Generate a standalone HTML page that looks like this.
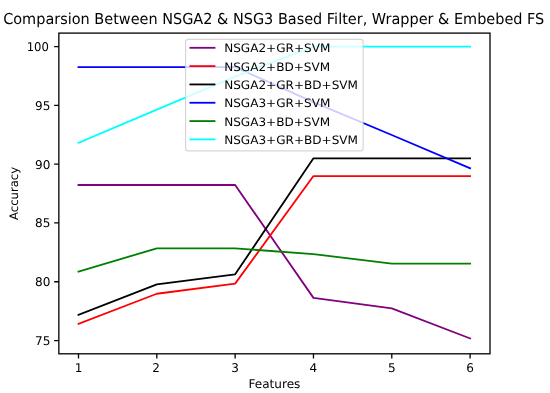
<!DOCTYPE html><html><head><meta charset="utf-8"><style>html,body{margin:0;padding:0;background:#fff;width:550px;height:393px;overflow:hidden}svg{display:block}text{text-rendering:geometricPrecision;font-family:"DejaVu Sans","Liberation Sans",sans-serif;fill:#000}</style></head><body>
<svg width="550" height="393" viewBox="0 0 550 393">
<rect width="550" height="393" fill="#fff"/>
<defs><clipPath id="ax"><rect x="58.85" y="33.1" width="431.15" height="320.7"/></clipPath></defs>
<g clip-path="url(#ax)" fill="none" stroke-width="1.81" stroke-linejoin="round" stroke-linecap="square">
<polyline points="78.50,184.98 156.82,184.98 235.14,184.98 313.46,297.87 391.78,308.34 470.10,338.44" stroke="#800080"/>
<polyline points="78.50,323.86 156.82,293.76 235.14,283.64 313.46,176.04 391.78,176.04 470.10,176.04" stroke="#ff0000"/>
<polyline points="78.50,314.81 156.82,284.46 235.14,274.35 313.46,158.28 391.78,158.28 470.10,158.28" stroke="#000000"/>
<polyline points="78.50,67.14 156.82,67.14 235.14,67.14 313.46,102.07 391.78,135.00 470.10,168.28" stroke="#0000ff"/>
<polyline points="78.50,271.53 156.82,248.36 235.14,248.36 313.46,254.12 391.78,263.53 470.10,263.53" stroke="#008000"/>
<polyline points="78.50,142.76 156.82,109.59 235.14,76.55 313.46,46.56 391.78,46.56 470.10,46.56" stroke="#00ffff"/>
</g>
<rect x="58.85" y="33.1" width="431.15" height="320.70" fill="none" stroke="#000" stroke-width="1.3" stroke-linejoin="miter" stroke-linecap="square"/>
<path d="M78.50,353.80v4.7 M156.82,353.80v4.7 M235.14,353.80v4.7 M313.46,353.80v4.7 M391.78,353.80v4.7 M470.10,353.80v4.7 M58.85,340.56h-4.7 M58.85,281.76h-4.7 M58.85,222.96h-4.7 M58.85,164.16h-4.7 M58.85,105.36h-4.7 M58.85,46.56h-4.7" stroke="#000" stroke-width="1.3" fill="none"/>
<text x="78.50" y="371.70" font-size="12.06" text-anchor="middle">1</text>
<text x="156.12" y="371.70" font-size="12.06" text-anchor="middle">2</text>
<text x="235.14" y="371.70" font-size="12.06" text-anchor="middle">3</text>
<text x="313.46" y="371.70" font-size="12.06" text-anchor="middle">4</text>
<text x="391.78" y="371.70" font-size="12.06" text-anchor="middle">5</text>
<text x="470.10" y="371.70" font-size="12.06" text-anchor="middle">6</text>
<text x="50.45" y="344.96" font-size="12.06" text-anchor="end">75</text>
<text x="50.45" y="286.16" font-size="12.06" text-anchor="end">80</text>
<text x="50.45" y="227.36" font-size="12.06" text-anchor="end">85</text>
<text x="50.45" y="168.56" font-size="12.06" text-anchor="end">90</text>
<text x="50.45" y="109.76" font-size="12.06" text-anchor="end">95</text>
<text x="26.72" y="50.96" font-size="12.06" textLength="22.19" lengthAdjust="spacingAndGlyphs">100</text>
<text x="274.43" y="387.7" font-size="12.06" text-anchor="middle">Features</text>
<text transform="translate(18.3,220.00) rotate(-90)" font-size="11.7" textLength="53.1" lengthAdjust="spacingAndGlyphs">Accuracy</text>
<text x="3.2" y="24.4" font-size="15.0" textLength="541.1" lengthAdjust="spacingAndGlyphs">Comparsion Between NSGA2 &amp; NSG3 Based Filter, Wrapper &amp; Embebed FS</text>
<rect x="185.6" y="39.3" width="177.50" height="111.60" rx="2.4" ry="2.4" fill="#fff" fill-opacity="0.8" stroke="#cccccc" stroke-opacity="0.8" stroke-width="1.2"/>
<path d="M190.4,47.80H214.5" stroke="#800080" stroke-width="1.81" stroke-linecap="square"/>
<text x="224.15" y="52.40" font-size="11.6" textLength="106.19" lengthAdjust="spacingAndGlyphs">NSGA2+GR+SVM</text>
<path d="M190.4,66.12H214.5" stroke="#ff0000" stroke-width="1.81" stroke-linecap="square"/>
<text x="224.15" y="70.72" font-size="11.6" textLength="106.03" lengthAdjust="spacingAndGlyphs">NSGA2+BD+SVM</text>
<path d="M190.4,84.44H214.5" stroke="#000000" stroke-width="1.81" stroke-linecap="square"/>
<text x="224.15" y="89.04" font-size="11.6" textLength="133.86" lengthAdjust="spacingAndGlyphs">NSGA2+GR+BD+SVM</text>
<path d="M190.4,102.76H214.5" stroke="#0000ff" stroke-width="1.81" stroke-linecap="square"/>
<text x="224.15" y="107.36" font-size="11.6" textLength="106.19" lengthAdjust="spacingAndGlyphs">NSGA3+GR+SVM</text>
<path d="M190.4,121.08H214.5" stroke="#008000" stroke-width="1.81" stroke-linecap="square"/>
<text x="224.15" y="125.68" font-size="11.6" textLength="106.03" lengthAdjust="spacingAndGlyphs">NSGA3+BD+SVM</text>
<path d="M190.4,139.40H214.5" stroke="#00ffff" stroke-width="1.81" stroke-linecap="square"/>
<text x="224.15" y="144.00" font-size="11.6" textLength="133.86" lengthAdjust="spacingAndGlyphs">NSGA3+GR+BD+SVM</text>
</svg></body></html>
